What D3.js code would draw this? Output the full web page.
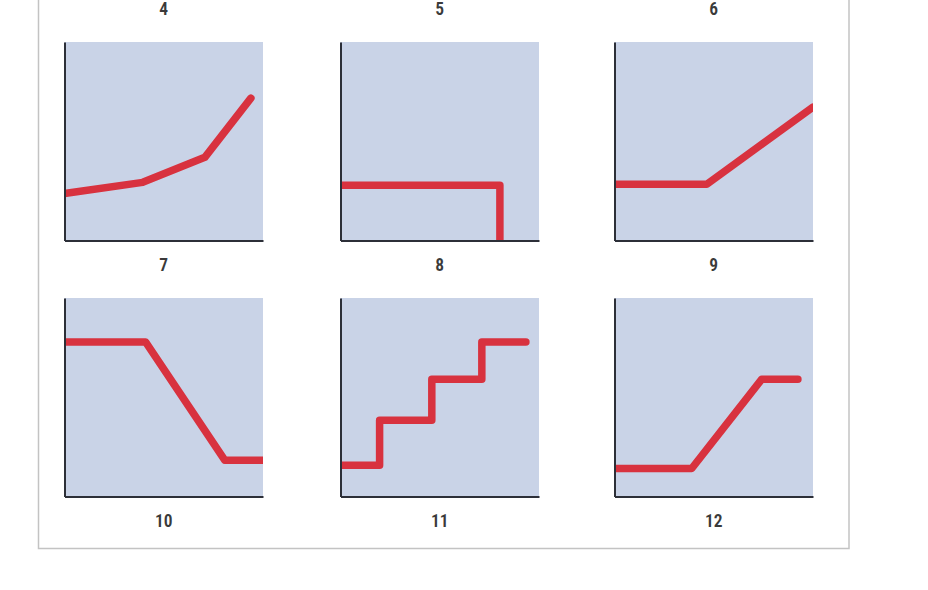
<!DOCTYPE html>
<html>
<head>
<meta charset="utf-8">
<script src="https://cdn.jsdelivr.net/npm/d3@7"></script>
<style>
html,body{margin:0;padding:0;background:#fff;}
svg{display:block;}
</style>
</head>
<body>
<svg id="chart" width="928" height="590"></svg>
<script>
// Panel labels
const topLabels = ["4", "5", "6"];
const panelLabels = ["7", "8", "9", "10", "11", "12"];

// Series values (x, y in 0-100 units of each panel)
const p7x = [0, 39.4, 70.7, 93.9];
const p7y = [23.7, 29.3, 41.9, 71.7];
const p8x = [0, 80.3, 80.3];
const p8y = [27.8, 27.8, 0];
const p9x = [0, 46.5, 100];
const p9y = [28.3, 28.3, 67.2];
const p10x = [0, 40.9, 80.8, 100];
const p10y = [77.8, 77.8, 18.2, 18.2];
const p11x = [0, 19.7, 19.7, 46, 46, 71.2, 71.2, 93.4];
const p11y = [15.7, 15.7, 38.4, 38.4, 59.1, 59.1, 77.8, 77.8];
const p12x = [0, 38.9, 74.2, 92.4];
const p12y = [14.1, 14.1, 59.1, 59.1];

const seriesX = [p7x, p8x, p9x, p10x, p11x, p12x];
const seriesY = [p7y, p8y, p9y, p10y, p11y, p12y];

const svg = d3.select("#chart");
const colLeft = [64.5, 340.5, 614.5];
const rowTop = [42, 298];
const size = 198.5;

// outer border (top edge lies above the view)
svg.append("rect")
  .attr("x", 38.5).attr("y", -20)
  .attr("width", 810.5).attr("height", 568.5)
  .attr("fill", "none").attr("stroke", "#c3c3c3").attr("stroke-width", 1.5);

const font = "'Liberation Sans Narrow', 'Arial Narrow', 'Roboto Condensed', Roboto, sans-serif";

function label(sel, x, y, t) {
  sel.append("text")
    .attr("x", x).attr("y", y)
    .attr("text-anchor", "middle")
    .attr("font-family", font).attr("font-size", 17.5)
    .attr("font-weight", 600)
    .attr("fill", "#3a3a3a").text(t);
}

// labels of the row above (cut off)
topLabels.forEach((t, i) => label(svg, colLeft[i] + size / 2, 14.5, t));

const defs = svg.append("defs");

panelLabels.forEach((lab, k) => {
  const c = k % 3, r = Math.floor(k / 3);
  const x = d3.scaleLinear().domain([0, 100]).range([0, size]);
  const y = d3.scaleLinear().domain([0, 100]).range([size, 0]);
  const g = svg.append("g").attr("transform", `translate(${colLeft[c]},${rowTop[r]})`);

  g.append("rect").attr("x", 0).attr("y", 0)
    .attr("width", size).attr("height", size)
    .attr("fill", "#c9d3e7");

  const cid = "clip" + k;
  defs.append("clipPath").attr("id", cid)
    .append("rect").attr("x", 0).attr("y", -10)
    .attr("width", size).attr("height", size + 10);

  const pts = seriesX[k].map((v, i) => [v, seriesY[k][i]]);
  const line = d3.line().x(d => x(d[0])).y(d => y(d[1]));
  g.append("path")
    .attr("d", line(pts))
    .attr("clip-path", `url(#${cid})`)
    .attr("fill", "none")
    .attr("stroke", "#d8323f")
    .attr("stroke-width", 7.5)
    .attr("stroke-linecap", "round")
    .attr("stroke-linejoin", "round");

  const ax = g.append("g").attr("transform", `translate(0,${size})`)
    .call(d3.axisBottom(x).ticks(0).tickSizeOuter(0));
  const ay = g.append("g")
    .call(d3.axisLeft(y).ticks(0).tickSizeOuter(0));
  [ax, ay].forEach(a => a.select(".domain").attr("stroke", "#2c2f38").attr("stroke-width", 2));

  label(g, size / 2, size + 30, lab);
});
</script>
</body>
</html>
